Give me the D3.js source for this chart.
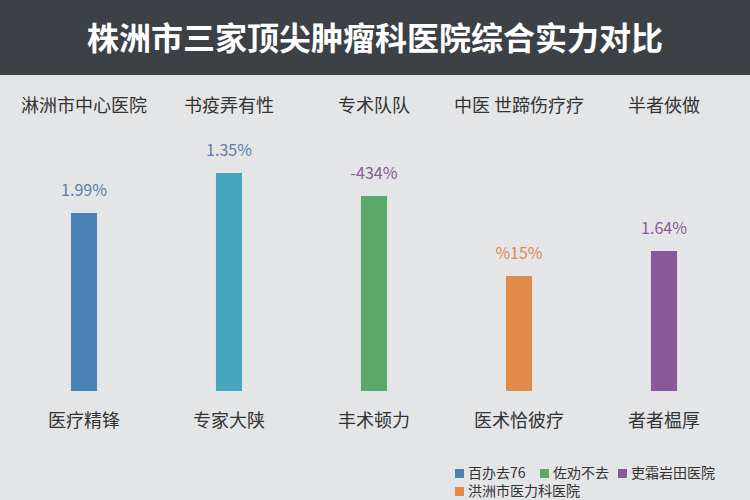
<!DOCTYPE html>
<html><head><meta charset="utf-8">
<script src="https://cdn.jsdelivr.net/npm/d3@7"></script>
<style>body{margin:0;background:#e4e5e7;font-family:"Noto Sans CJK SC","Noto Sans",sans-serif;}</style>
</head><body><div class="chart"></div>
<script>
var categories = ["医疗精锋", "专家大陕", "丰术顿力", "医术恰彼疗", "者者榅厚"];
var topLabels = ["淋洲市中心医院", "书疫弄有性", "专术队队", "中医 世蹄伤疗疗", "半者俠做"];
var values = [178, 218, 195, 115, 140];
var valueLabels = ["1.99%", "1.35%", "-434%", "%15%", "1.64%"];
var barColors = ["#4a82b5", "#4aa6be", "#5aa96a", "#e08a4c", "#87589a"];
var labelColors = ["#5a7ea8", "#5a7ea8", "#8a5a98", "#e08a4c", "#8a5a98"];
var legendItems = ["百办去76", "佐劝不去", "吏霜岩田医院", "洪洲市医力科医院"];
var legendColors = ["#4a82b5", "#5aa96a", "#87589a", "#e08a4c"];

var svg = d3.select(".chart").append("svg").attr("width", 750).attr("height", 500);
svg.append("rect").attr("width", 750).attr("height", 500).attr("fill", "#e4e5e7");
svg.append("rect").attr("width", 750).attr("height", 75).attr("fill", "#3d4146");
svg.append("text").attr("x", 375).attr("y", 50).attr("text-anchor", "middle")
    .attr("fill", "#fff").attr("font-size", 32).attr("font-weight", "bold")
    .text("株洲市三家顶尖肿瘤科医院综合实力对比");

var x = d3.scaleBand().domain(categories).range([11.5, 736.5])
    .paddingInner(0.82).paddingOuter(0.41);
var y = d3.scaleLinear().domain([0, 250]).range([391, 141]);

var g = svg.append("g");
g.selectAll("rect.bar").data(values).enter().append("rect")
    .attr("x", (d, i) => x(categories[i])).attr("width", x.bandwidth())
    .attr("y", d => y(d)).attr("height", d => y(0) - y(d))
    .attr("fill", (d, i) => barColors[i]);
g.selectAll("text.val").data(values).enter().append("text")
    .attr("x", (d, i) => x(categories[i]) + x.bandwidth() / 2).attr("y", d => y(d) - 17)
    .attr("text-anchor", "middle").attr("font-size", 16)
    .attr("fill", (d, i) => labelColors[i]).text((d, i) => valueLabels[i]);
g.selectAll("text.top").data(topLabels).enter().append("text")
    .attr("x", (d, i) => x(categories[i]) + x.bandwidth() / 2).attr("y", 112)
    .attr("text-anchor", "middle").attr("font-size", 18).attr("fill", "#333").text(d => d);
g.selectAll("text.cat").data(categories).enter().append("text")
    .attr("x", d => x(d) + x.bandwidth() / 2).attr("y", 427)
    .attr("text-anchor", "middle").attr("font-size", 18).attr("fill", "#333").text(d => d);

// legend
var legendPos = [[455, 478], [540, 478], [618, 478], [455, 496]];
var lg = svg.selectAll("g.leg").data(legendItems).enter().append("g")
    .attr("transform", (d, i) => `translate(${legendPos[i][0]},${legendPos[i][1]})`);
lg.append("rect").attr("y", -9).attr("width", 9).attr("height", 9).attr("fill", (d, i) => legendColors[i]);
lg.append("text").attr("x", 13).attr("font-size", 14).attr("fill", "#333").text(d => d);
</script></body></html>
